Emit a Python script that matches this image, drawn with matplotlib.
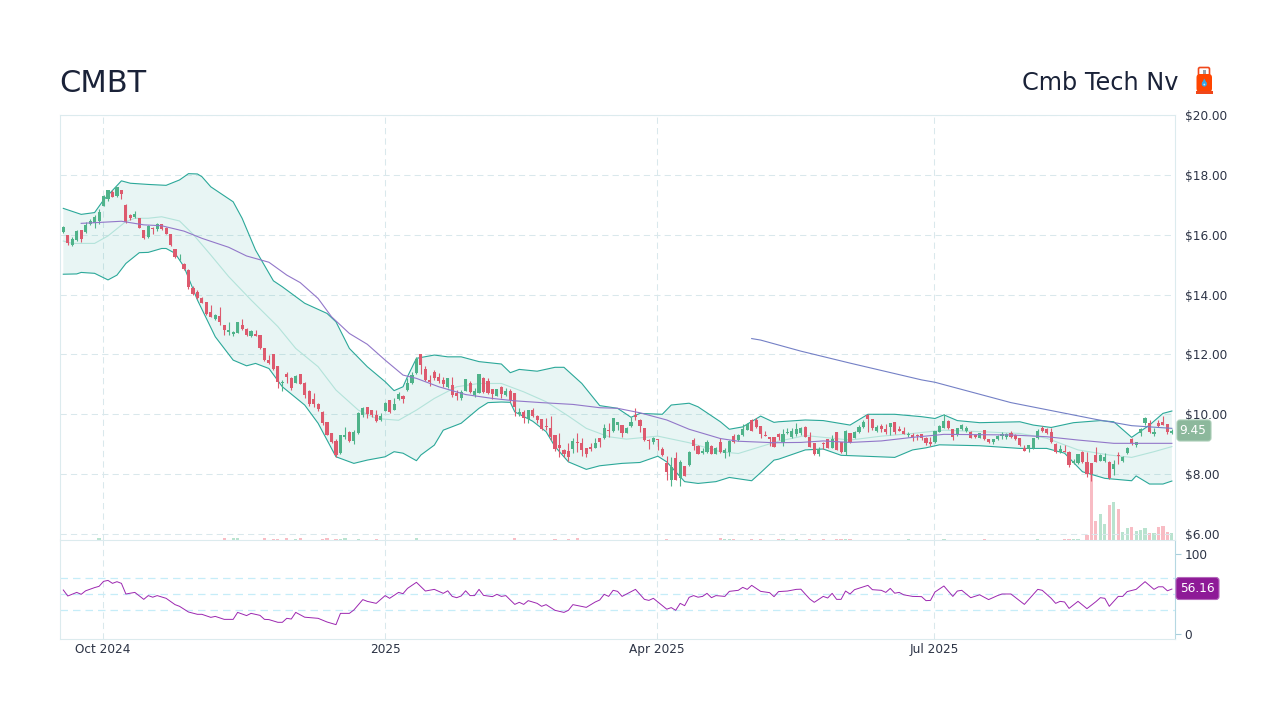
import matplotlib
matplotlib.use("Agg")
import matplotlib.pyplot as plt
from matplotlib.patches import FancyBboxPatch, Rectangle, Circle, Polygon

# ---------- data ----------
opens = [16.10,15.99,15.66,15.82,16.15,16.08,16.36,16.38,16.47,16.97,
 17.19,17.44,17.29,17.48,17.00,16.66,16.58,16.55,16.15,15.91,
 16.24,16.18,16.35,16.24,16.03,15.51,15.24,15.01,14.82,14.23,
 14.10,13.90,13.75,13.41,13.17,13.28,12.98,12.75,12.68,12.73,
 12.98,12.86,12.63,12.67,12.64,12.20,11.81,12.00,11.61,11.06,
 11.34,11.20,11.06,11.33,11.03,10.78,10.51,10.34,10.09,9.73,
 9.38,9.10,8.71,9.23,9.42,9.11,9.36,9.97,10.23,10.14,
 9.97,9.81,10.11,10.47,10.14,10.50,10.60,10.81,11.03,11.37,
 12.00,11.53,11.15,11.42,11.23,11.15,10.90,10.98,10.70,10.53,
 10.79,11.06,10.64,10.72,11.20,11.11,10.84,10.62,10.92,10.64,
 10.79,10.70,10.01,10.09,9.84,10.14,9.94,9.84,9.60,9.53,
 9.31,8.97,8.81,8.77,8.83,9.07,9.03,8.86,8.92,8.88,
 9.20,9.20,9.47,9.45,9.64,9.64,9.39,9.61,9.98,9.81,
 9.53,9.14,9.09,9.17,8.83,8.36,7.81,8.53,7.86,8.27,
 8.31,9.14,8.95,8.70,8.75,8.95,8.67,9.09,8.70,8.75,
 9.29,9.14,9.31,9.48,9.81,9.81,9.61,9.31,9.23,9.23,
 9.33,9.09,9.37,9.23,9.33,9.36,9.59,9.23,9.03,8.67,
 9.05,9.16,8.88,9.40,9.08,8.73,9.36,9.22,9.40,9.59,
 9.99,9.84,9.44,9.61,9.51,9.56,9.73,9.51,9.44,9.32,
 9.31,9.29,9.33,9.22,9.08,9.08,9.42,9.55,9.79,9.51,
 9.31,9.51,9.45,9.42,9.31,9.22,9.47,9.17,9.06,9.16,
 9.27,9.25,9.39,9.31,9.20,8.88,8.83,8.86,9.20,9.55,
 9.50,9.42,9.00,8.75,8.77,8.75,8.36,8.36,8.75,8.42,
 8.36,8.64,8.45,8.44,8.42,8.16,8.64,8.44,8.72,9.16,
 8.97,9.36,9.70,9.70,9.34,9.70,9.75,9.68,9.39]
closes = [16.25,15.71,15.87,16.13,15.87,16.33,16.47,16.60,16.75,17.31,
 17.48,17.25,17.58,17.35,16.44,16.57,16.70,16.24,15.88,16.30,
 16.18,16.35,16.18,16.04,15.64,15.25,15.27,14.84,14.24,14.01,
 13.87,13.73,13.34,13.26,13.32,13.10,12.81,12.81,12.75,13.07,
 12.84,12.65,12.78,12.63,12.20,11.81,11.72,11.50,11.07,11.09,
 11.23,10.89,11.29,11.01,10.65,10.36,10.34,10.17,9.70,9.31,
 9.08,8.64,9.31,9.31,9.12,9.41,10.06,10.22,10.01,9.97,
 9.78,9.95,10.39,10.09,10.34,10.67,10.51,11.06,11.31,11.84,
 11.65,11.15,11.09,11.20,11.12,11.00,11.20,10.64,10.62,10.75,
 11.18,10.75,10.79,11.35,10.75,10.70,10.67,10.84,10.67,10.79,
 10.48,10.25,10.09,9.86,10.14,9.95,9.81,9.50,9.58,9.23,
 8.84,8.86,8.66,8.58,9.11,9.03,8.81,8.69,8.83,9.03,
 9.09,9.55,9.44,9.87,9.73,9.36,9.55,9.75,9.92,9.61,
 9.14,9.11,9.20,9.13,8.64,8.08,8.25,7.81,8.42,7.95,
 8.75,8.94,8.67,8.79,9.09,8.67,8.89,8.73,8.81,9.12,
 9.09,9.31,9.51,9.68,9.45,9.59,9.33,9.27,9.16,8.92,
 9.23,9.33,9.42,9.44,9.51,9.53,9.25,8.92,8.67,8.84,
 9.00,8.88,9.16,8.81,8.73,9.44,9.06,9.42,9.59,9.75,
 9.84,9.53,9.59,9.51,9.42,9.70,9.40,9.45,9.34,9.34,
 9.23,9.27,9.22,9.03,9.01,9.44,9.62,9.79,9.53,9.23,
 9.53,9.64,9.55,9.22,9.23,9.36,9.16,9.08,9.16,9.29,
 9.33,9.33,9.23,9.16,8.97,8.78,8.97,9.20,9.44,9.45,
 9.37,9.06,8.73,8.83,8.75,8.31,8.45,8.67,8.39,8.00,
 7.99,8.42,8.64,8.56,7.86,8.34,8.62,8.58,8.86,9.03,
 9.08,9.51,9.86,9.42,9.42,9.62,9.64,9.40,9.45]
highs = [16.30,16.00,15.93,16.15,16.15,16.42,16.52,16.65,16.85,17.33,
 17.50,17.50,17.60,17.50,17.02,16.70,16.78,16.55,16.15,16.32,
 16.25,16.40,16.37,16.25,16.03,15.52,15.35,15.04,14.84,14.28,
 14.14,13.93,13.76,13.65,13.35,13.60,13.00,13.07,12.78,13.08,
 13.17,12.88,12.81,12.81,12.65,12.20,11.98,12.00,11.62,11.14,
 11.40,11.25,11.30,11.34,11.09,10.80,10.70,10.39,10.10,9.74,
 9.39,9.19,9.32,9.56,9.45,9.47,10.07,10.25,10.24,10.16,
 10.14,10.03,10.40,10.48,10.53,10.75,10.65,11.20,11.40,11.90,
 12.02,11.60,11.31,11.48,11.37,11.26,11.22,11.26,10.81,10.80,
 11.19,11.12,10.87,11.36,11.26,11.20,10.86,10.86,10.95,10.87,
 10.83,10.72,10.20,10.14,10.16,10.20,9.96,9.85,9.86,9.94,
 9.32,9.36,8.83,9.03,9.20,9.36,9.22,8.88,9.03,9.22,
 9.20,9.68,9.70,9.88,9.75,9.65,9.56,9.90,10.20,9.83,
 9.54,9.16,9.23,9.18,8.92,8.60,8.58,8.73,8.47,8.28,
 8.79,9.22,8.96,8.86,9.14,8.96,8.90,9.20,8.86,9.14,
 9.33,9.33,9.68,9.70,9.85,9.87,9.62,9.44,9.24,9.24,
 9.37,9.50,9.53,9.53,9.70,9.59,9.60,9.42,9.04,8.92,
 9.06,9.17,9.31,9.41,9.09,9.46,9.37,9.43,9.64,9.81,
 10.00,9.85,9.64,9.67,9.67,9.72,9.74,9.62,9.59,9.40,
 9.36,9.33,9.34,9.23,9.25,9.45,9.64,10.00,9.80,9.52,
 9.55,9.66,9.60,9.44,9.33,9.38,9.48,9.18,9.18,9.31,
 9.42,9.37,9.45,9.34,9.21,8.97,8.99,9.21,9.52,9.61,
 9.55,9.53,9.05,8.97,8.99,8.76,8.50,8.68,8.76,8.73,
 8.37,8.90,8.66,8.72,8.43,8.47,8.75,8.60,8.90,9.20,
 9.09,9.53,9.90,9.81,9.53,9.81,9.95,9.69,9.51]
lows = [16.05,15.65,15.63,15.80,15.76,16.05,16.33,16.24,16.36,16.95,
 17.12,17.25,17.25,17.18,16.38,16.50,16.57,16.22,15.87,15.90,
 16.04,16.13,16.15,16.03,15.63,15.23,15.15,14.82,14.20,13.98,
 13.85,13.72,13.33,13.25,13.14,13.00,12.65,12.65,12.63,12.71,
 12.81,12.63,12.59,12.62,12.17,11.79,11.68,11.49,10.89,10.78,
 11.03,10.81,11.05,11.00,10.56,10.29,10.23,10.12,9.63,9.30,
 9.05,8.58,8.69,9.19,9.08,9.00,9.33,9.92,9.86,9.92,
 9.75,9.77,10.10,10.06,10.13,10.47,10.39,10.79,11.00,11.35,
 11.35,11.10,10.96,11.15,11.03,10.92,10.88,10.59,10.48,10.48,
 10.77,10.72,10.59,10.70,10.72,10.67,10.51,10.60,10.53,10.62,
 10.42,9.95,9.95,9.72,9.72,9.92,9.72,9.47,9.47,9.14,
 8.77,8.58,8.58,8.44,8.72,8.75,8.61,8.56,8.79,8.86,
 8.92,9.18,9.23,9.40,9.48,9.25,9.37,9.59,9.81,9.42,
 9.12,8.83,9.01,8.81,8.59,7.81,7.62,7.80,7.62,7.94,
 8.28,8.81,8.66,8.66,8.70,8.66,8.66,8.70,8.53,8.59,
 9.05,9.12,9.29,9.46,9.44,9.53,9.22,9.26,8.95,8.91,
 9.14,8.95,9.34,9.20,9.27,9.31,9.24,8.90,8.64,8.62,
 8.83,8.87,8.87,8.80,8.72,8.64,9.03,9.20,9.36,9.53,
 9.42,9.47,9.40,9.40,9.33,9.31,9.33,9.44,9.33,9.25,
 9.11,9.14,9.14,8.97,8.95,9.05,9.40,9.53,9.50,9.14,
 9.28,9.49,9.42,9.20,9.21,9.20,9.14,9.05,9.02,9.15,
 9.17,9.16,9.20,9.15,8.95,8.77,8.75,8.84,9.18,9.42,
 9.35,9.05,8.70,8.72,8.73,8.23,8.33,8.35,8.38,7.92,
 7.76,8.40,8.43,8.42,7.85,7.97,8.33,8.39,8.67,8.99,
 8.90,9.29,9.64,9.36,9.29,9.59,9.63,9.33,9.33]
volume = [.25,.25,.25,.25,.25,.25,.25,.25,.8,.25,
 .25,.25,.25,.25,.25,.25,.25,.25,.25,.25,
 .25,.25,.25,.25,.25,.25,.25,.25,.25,.25,
 .25,.25,.25,.25,.25,.25,.9,.25,.8,.8,
 .25,.25,.25,.25,.25,.8,.25,.7,.7,.25,
 .8,.25,.7,.8,.25,.25,.25,.25,.7,.8,
 .25,.7,.7,.8,.25,.25,.6,.25,.25,.25,
 .7,.25,.25,.25,.25,.25,.25,.25,.25,.8,
 .25,.25,.25,.25,.25,.25,.25,.25,.25,.25,
 .25,.25,.25,.25,.25,.25,.25,.25,.25,.25,
 .25,.8,.25,.25,.25,.25,.25,.25,.25,.25,
 .7,.25,.25,.7,.25,.8,.25,.25,.25,.25,
 .25,.25,.25,.25,.25,.25,.25,.25,.25,.25,
 .25,.25,.25,.25,.25,.7,.25,.25,.25,.25,
 .25,.25,.25,.25,.25,.25,.25,1.2,.7,.7,
 .7,.25,.25,.25,.6,.25,.6,.25,.25,.25,
 .7,.7,.25,.25,.6,.25,.25,.6,.25,.25,
 .6,.25,.25,.7,.7,.7,.7,.25,.25,.25,
 .25,.25,.25,.25,.25,.25,.25,.25,.25,.6,
 .25,.25,.25,.25,.25,.25,.25,.6,.25,.25,
 .25,.25,.25,.25,.25,.25,.7,.25,.25,.25,
 .25,.25,.25,.25,.25,.25,.25,.25,.6,.25,
 .25,.25,.25,.25,.7,.7,.7,.7,.25,
 2.5,38,9.5,13,8,17.5,19,15.5,4,6,6.5,4.5,5,6,3.5,3.5,6.5,7,4,3.5]

upper_x = [0,4,7,9,13,15,19,23,26,28,30,31,33,38,40,43,47,49,54,59,61,64,68,72,74,76,77,
 79,83,86,89,93,98,100,102,106,110,112,116,120,124,127,129,134,136,140,142,147,149,152,156,159,
 160,166,170,176,180,186,192,195,197,200,205,214,217,221,226,232,235,239,243,246,248]
upper_y = [16.88,16.68,16.74,17.16,17.80,17.72,17.68,17.65,17.83,18.04,18.03,17.94,17.60,17.10,16.55,15.49,14.46,14.26,13.71,13.37,13.09,12.20,11.59,11.09,10.79,10.92,11.26,
 11.87,11.98,11.92,11.92,11.76,11.68,11.39,11.50,11.44,11.57,11.57,11.03,10.29,10.20,9.90,10.03,10.00,10.31,10.37,10.25,9.75,9.50,9.58,9.94,9.73,
 9.75,9.81,9.79,9.64,10.00,10.00,9.92,9.86,9.98,9.79,9.72,9.75,9.64,9.56,9.72,9.79,9.75,9.23,9.64,10.03,10.11]
lower_x = [0,3,4,7,10,12,14,17,19,22,23,25,27,30,34,38,41,43,46,49,54,57,61,65,68,72,74,76,
 79,80,83,85,89,93,95,98,100,101,105,108,110,113,117,120,125,129,133,135,139,142,146,149,154,156,159,
 160,166,170,174,186,190,193,196,205,214,220,224,228,233,239,240,243,246,248]
lower_y = [14.68,14.69,14.74,14.71,14.49,14.65,15.04,15.40,15.41,15.54,15.54,15.38,14.93,13.82,12.59,11.81,11.62,11.70,11.53,10.92,10.31,9.70,8.58,8.36,8.47,8.58,8.75,8.70,
 8.45,8.64,8.97,9.47,9.70,10.20,10.39,10.41,10.40,10.08,9.77,9.42,8.92,8.41,8.16,8.28,8.36,8.39,8.60,8.41,7.75,7.69,7.75,7.89,7.78,8.05,8.47,
 8.50,8.81,8.84,8.63,8.56,8.81,8.88,8.98,8.95,8.86,8.86,8.70,8.08,7.86,7.78,7.94,7.67,7.67,7.77]
middle_x = [0,2,7,10,14,16,19,22,26,29,33,37,42,48,52,57,61,66,70,75,79,83,88,93,98,103,108,113,117,122,126,133,140,147,151,156,160,166,176,183,190,197,205,214,220,227,234,239,244,248]
middle_y = [15.79,15.71,15.71,15.96,16.44,16.55,16.55,16.60,16.46,16.02,15.32,14.60,13.82,12.93,12.20,11.59,10.81,10.14,9.86,9.80,10.14,10.53,10.92,11.03,11.03,10.75,10.42,9.94,9.53,9.25,9.17,9.27,9.05,8.75,8.69,8.92,9.10,9.29,9.14,9.27,9.36,9.47,9.42,9.36,9.20,8.81,8.64,8.56,8.75,8.92]
ma50_x = [4,8,13,18,22,27,31,37,41,46,50,53,57,60,64,68,72,76,79,84,90,96,101,107,114,120,124,129,135,140,147,151,159,165,170,176,183,190,197,212,220,227,235,239,248]
ma50_y = [16.38,16.41,16.45,16.33,16.30,16.12,15.88,15.58,15.29,15.08,14.65,14.40,13.87,13.26,12.70,12.34,11.81,11.31,11.20,10.92,10.66,10.53,10.45,10.39,10.33,10.22,10.20,10.05,9.81,9.50,9.19,9.10,9.05,9.06,9.11,9.06,9.11,9.23,9.33,9.31,9.25,9.14,9.03,9.03,9.03]
ma200_x = [154,156,165,176,192,195,212,231,239,248]
ma200_y = [12.53,12.48,12.11,11.71,11.15,11.07,10.39,9.83,9.62,9.53]

rsi_x = [0,1,3,4,5,6,7,8,9,10,11,12,13,14,16,18,19,20,21,23,25,26,28,30,31,33,34,36,38,39,41,42,44,45,46,48,49,50,51,52,54,57,59,61,62,64,65,67,68,70,72,73,75,76,77,79,81,83,85,86,87,88,89,90,91,92,93,94,96,97,98,99,101,102,103,104,106,107,108,110,112,113,114,117,119,120,121,122,123,124,125,128,
 130,131,132,135,136,137,138,139,140,141,142,143,144,145,146,148,149,151,152,153,154,156,158,159,160,162,164,165,167,168,170,171,172,173,174,175,176,177,180,181,183,184,185,186,187,188,190,192,193,194,195,197,199,200,201,203,205,207,209,210,212,215,218,219,221,222,223,224,225,227,229,231,232,233,234,236,237,238,240,242,244,245,246,247,248]
rsi_y = [55,47.5,52,49.6,54,56,58,59.6,65.8,67,63.3,65.4,63.3,50,52,43.3,48,46,48,44.6,36.7,34.6,27.5,24.6,24.6,20.8,22,18.3,18.3,27,23,25.8,23.3,18.3,18,14.6,14.6,19.6,18.7,27,21,19.6,15,11.7,25.8,25.8,30,43,40.8,38.3,48,44.6,52,50.4,57,64.6,53.7,55.8,50.8,54,47,45.4,47.5,54,48,48,55.8,48.3,46.7,49.6,47,48,37,39.6,37,41.7,38.3,34.6,36.7,29.6,27,29.6,36.7,33.3,40,42.5,49.6,47,54.6,53.3,47,55.8,
 43.3,42,44.6,31,33,29.6,38.3,35.4,45.8,48,46,47,50.8,45.4,48,47,53.3,54.6,58.3,55.8,60.8,53.3,51.7,46.7,53,53.7,55.8,56,43.7,39.6,47,45,50.8,43.3,43.3,53.7,50,55.4,60.8,55.4,54.6,52,57,51,52,49,47,46.7,41.7,42,52.5,60,47,53.7,54.6,45.4,49,43,48,50,50,37,55.8,54.6,44.6,38.3,40.8,40,32,40.8,31.7,40.4,45.4,44.6,34.6,47,47,53,55.8,65.4,55.8,59,59,54,56.16]

price_ticks = [6, 8, 10, 12, 14, 16, 18, 20]
date_ticks = [8.85, 72, 132.8, 194.8]
date_labels = ["Oct 2024", "2025", "Apr 2025", "Jul 2025"]
rsi_grid = [30, 50, 70]
rsi_ticks = [0, 100]
ticker = "CMBT"
company = "Cmb Tech Nv"
last_price = "9.45"
last_rsi = "56.16"

# ---------- style ----------
W, H = 1280, 720
UP, DOWN = "#4fb38a", "#dd5a6e"
INK = "#1a2238"
TICK = "#2c3345"
plt.rcParams["font.family"] = ["DejaVu Sans"]

fig = plt.figure(figsize=(W / 100, H / 100), dpi=100, facecolor="white")
def rect(l, t, r, b):
    return [l / W, 1 - b / H, (r - l) / W, (b - t) / H]

XLIM = (-0.74, 248.7)
ax = fig.add_axes(rect(60, 115, 1175, 540))
axv = ax.twinx()
rs = fig.add_axes(rect(60, 540, 1175, 639))

# grid colours
GRID = "#d9e8ec"
for a in (ax, rs):
    a.set_xlim(*XLIM)
    a.set_xticks(date_ticks)
    a.grid(axis="x", color=GRID, lw=0.75, ls=(0, (6, 4)))
    a.set_axisbelow(True)

ax.set_ylim(5.80, 20.0)
ax.set_yticks(price_ticks)
ax.set_yticklabels([f"${v:.2f}" for v in price_ticks], color=TICK, fontsize=8.7)
ax.yaxis.tick_right()
ax.grid(axis="y", color=GRID, lw=0.75, ls=(0, (6, 4)))
ax.tick_params(axis="y", length=0, pad=7)
ax.tick_params(axis="x", length=0, labelbottom=False)
ax.set_zorder(2)
ax.patch.set_visible(False)
for s in ax.spines.values():
    s.set_color("#dcebee")
    s.set_linewidth(0.8)

# volume overlay
axv.set_zorder(1)
axv.set_ylim(0, 212.5)
axv.set_yticks([])
axv.bar(range(len(volume)), volume, width=0.72,
        color=["#b9e3cf" if c >= o else "#f8bcc4" for o, c in zip(opens, closes)], lw=0)
for s in axv.spines.values():
    s.set_visible(False)

# Bollinger fill and lines
band_x = upper_x + lower_x[::-1]
band_y = upper_y + lower_y[::-1]
ax.fill(band_x, band_y, color="#26a69a", alpha=0.10, lw=0, zorder=2)
ax.plot(upper_x, upper_y, color="#2ba899", lw=0.8, zorder=3)
ax.plot(lower_x, lower_y, color="#2ba899", lw=0.8, zorder=3)
ax.plot(middle_x, middle_y, color="#b3e3da", lw=0.8, zorder=3)

# candles
for i, (o, h, l, c) in enumerate(zip(opens, highs, lows, closes)):
    col = UP if c >= o else DOWN
    ax.vlines(i, l, h, color=col, lw=0.8, zorder=4)
    ax.bar(i, max(abs(c - o), 0.03), bottom=min(o, c), width=0.7, color=col, lw=0, zorder=4)

ax.plot(ma50_x, ma50_y, color="#9277c9", lw=0.8, zorder=5)
ax.plot(ma200_x, ma200_y, color="#7480c6", lw=0.8, zorder=5)

# RSI pane
rs.set_ylim(-6.25, 117.5)
rs.plot(rsi_x, rsi_y, color="#9c27b0", lw=0.7, zorder=3)
for v in rsi_grid:
    rs.axhline(v, color="#c6edf8", lw=0.9, ls=(0, (6, 4)), zorder=1)
rs.set_xticklabels(date_labels, color=TICK, fontsize=8.7)
rs.set_yticks(rsi_ticks)
rs.yaxis.tick_right()
rs.set_yticklabels([str(v) for v in rsi_ticks], color=TICK, fontsize=8.7)
rs.tick_params(axis="y", length=4, width=0.8, color="#a9cfdc", pad=3)
rs.tick_params(axis="x", length=0, pad=3)
for n, s in rs.spines.items():
    s.set_color("#dcebee")
    s.set_linewidth(0.8)
rs.spines["right"].set_color("#b5d8e2")
rs.spines["top"].set_visible(False)

# overlay in pixel units for title, labels and icon
ov = fig.add_axes([0, 0, 1, 1], zorder=10)
ov.set_xlim(0, W)
ov.set_ylim(H, 0)
ov.axis("off")
ov.text(59, 83, ticker, fontsize=22.0, color=INK, va="center", ha="left")
ov.text(1178, 83, company, fontsize=17.3, color=INK, va="center", ha="right")

ov.add_patch(FancyBboxPatch((1177, 420), 34, 21, boxstyle="round,pad=0,rounding_size=3",
                            fc="#8cb89c", ec="#a9cdb6", lw=0.8))
ov.text(1193, 431, last_price, color="white", fontsize=8.7, ha="center", va="center")
ov.add_patch(FancyBboxPatch((1176, 577.5), 43, 22, boxstyle="round,pad=0,rounding_size=3",
                            fc="#8e1a97", ec="#b467bb", lw=0.8))
ov.text(1197, 589, last_rsi, color="white", fontsize=8.7, ha="center", va="center")

# gas cylinder icon
ov.add_patch(FancyBboxPatch((1198.5, 67.5), 11, 8, boxstyle="round,pad=0,rounding_size=1.5",
                            fc="white", ec="#f0471a", lw=1.2))
ov.add_patch(Rectangle((1202.5, 70), 3, 4, fc="#9aa0a6", ec="none"))
ov.add_patch(FancyBboxPatch((1196.5, 74), 15.5, 18, boxstyle="round,pad=0,rounding_size=3.5",
                            fc="#ff4500", ec="none"))
ov.add_patch(Rectangle((1196, 91), 16.5, 2.5, fc="#f0471a", ec="none"))
ov.add_patch(Circle((1204.3, 84), 2.6, fc="#35a7e6", ec="none"))
ov.add_patch(Polygon([(1202, 83), (1204.3, 78.5), (1206.6, 83)], fc="#35a7e6", ec="none"))
ov.add_patch(Circle((1204.3, 84.5), 0.9, fc="#bfe6ff", ec="none"))

fig.savefig("out.png", dpi=100, facecolor="white")
